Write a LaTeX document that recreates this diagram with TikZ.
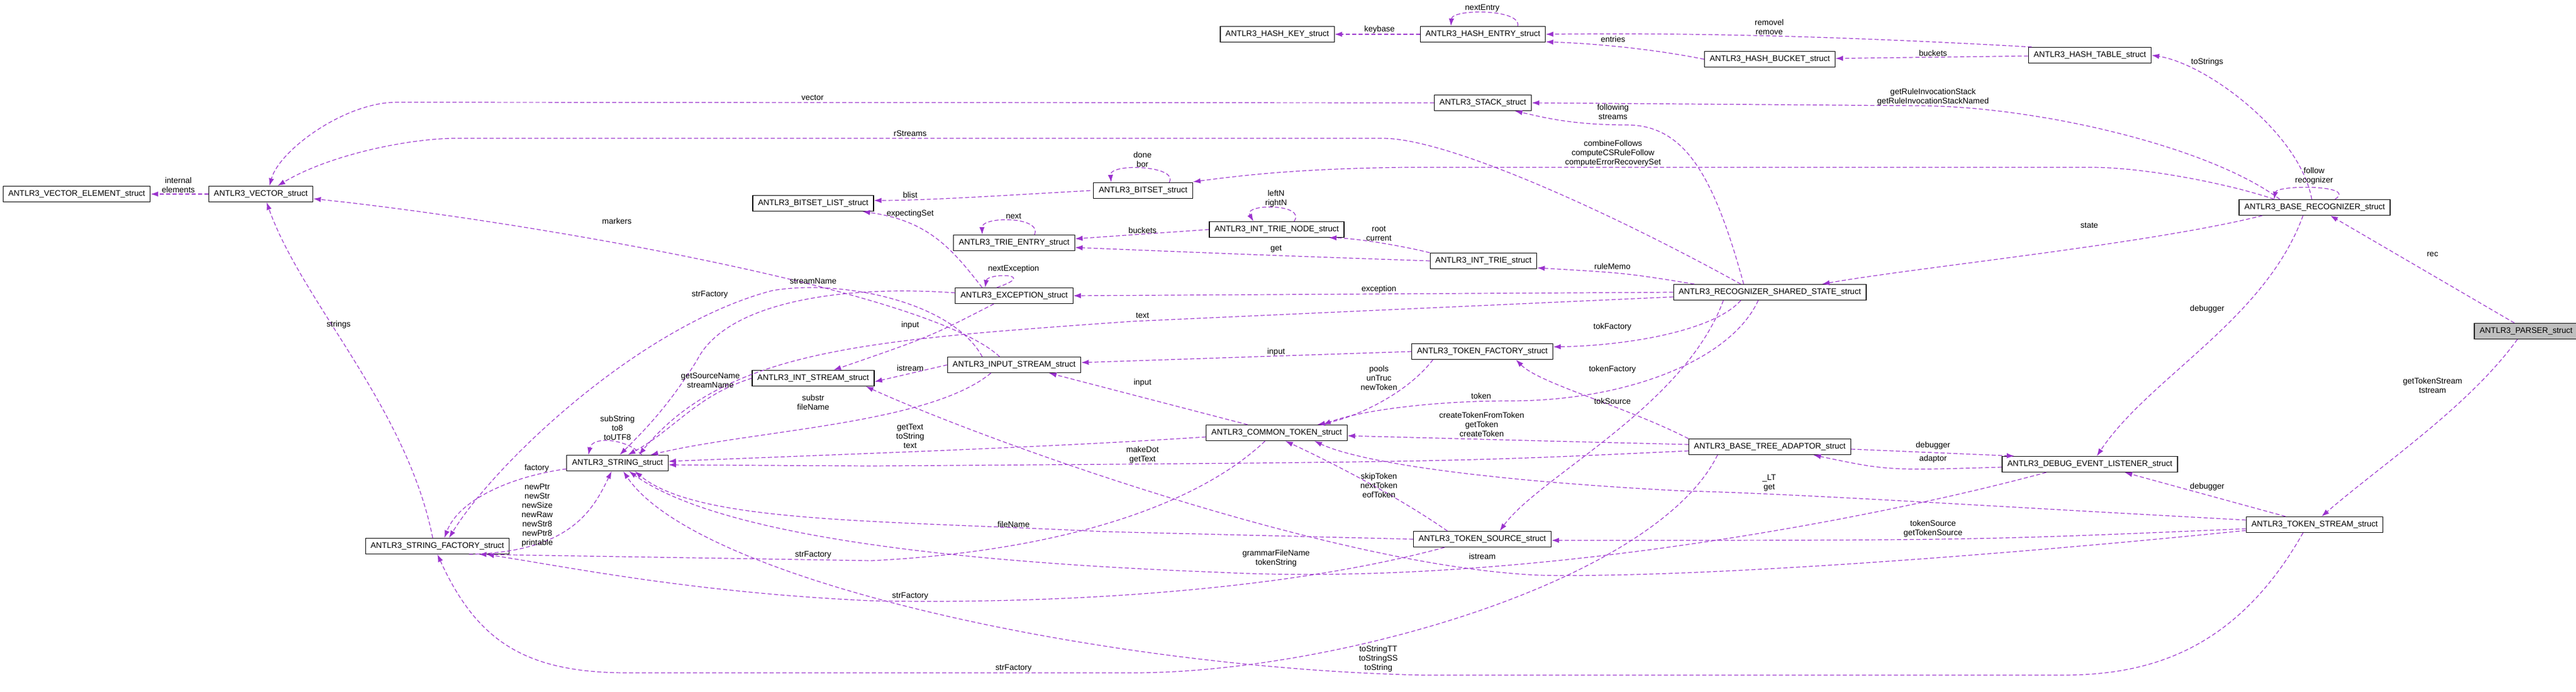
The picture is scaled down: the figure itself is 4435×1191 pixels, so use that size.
\documentclass[tikz,border=0pt]{standalone}
\usepackage{fontspec}
\setmainfont{Liberation Sans}
\usetikzlibrary{arrows.meta}
\definecolor{relcol}{HTML}{9A32CD}
\tikzset{
  box/.style={draw=black,line width=1.2pt,fill=white,inner xsep=9pt,minimum height=27pt,font=\fontsize{14}{16}\selectfont},
  rel/.style={draw=relcol,line width=1.2pt,dash pattern=on 7pt off 4pt,-{Latex[length=13pt,width=9pt]}},
  lbl/.style={font=\fontsize{14}{16}\selectfont,align=center,inner sep=0pt}
}
\begin{document}
\begin{tikzpicture}[x=1pt,y=-1pt]
\useasboundingbox (0,0) rectangle (4435,1191);

% structs
\node[box] (vecel) at (132,334) {ANTLR3\_VECTOR\_ELEMENT\_struct};
\node[box] (vec) at (449,334) {ANTLR3\_VECTOR\_struct};
\node[box] (bslist) at (1400,350) {ANTLR3\_BITSET\_LIST\_struct};
\node[box] (intstream) at (1400,651) {ANTLR3\_INT\_STREAM\_struct};
\node[box] (string) at (1063,797) {ANTLR3\_STRING\_struct};
\node[box] (strfac) at (753,940) {ANTLR3\_STRING\_FACTORY\_struct};
\node[box] (hashkey) at (2199,59) {ANTLR3\_HASH\_KEY\_struct};
\node[box] (hashentry) at (2553,59) {ANTLR3\_HASH\_ENTRY\_struct};
\node[box] (hashbucket) at (3047,102) {ANTLR3\_HASH\_BUCKET\_struct};
\node[box] (hashtable) at (3598,95) {ANTLR3\_HASH\_TABLE\_struct};
\node[box] (stack) at (2553,177) {ANTLR3\_STACK\_struct};
\node[box] (bitset) at (1968,328) {ANTLR3\_BITSET\_struct};
\node[box] (trienode) at (2198,395) {ANTLR3\_INT\_TRIE\_NODE\_struct};
\node[box] (trieentry) at (1746,418) {ANTLR3\_TRIE\_ENTRY\_struct};
\node[box] (inttrie) at (2554,449) {ANTLR3\_INT\_TRIE\_struct};
\node[box] (exception) at (1746,509) {ANTLR3\_EXCEPTION\_struct};
\node[box] (rss) at (3047,503) {ANTLR3\_RECOGNIZER\_SHARED\_STATE\_struct};
\node[box] (tokfac) at (2552,605) {ANTLR3\_TOKEN\_FACTORY\_struct};
\node[box] (inputstream) at (1746,628) {ANTLR3\_INPUT\_STREAM\_struct};
\node[box] (commontoken) at (2198,745) {ANTLR3\_COMMON\_TOKEN\_struct};
\node[box] (bta) at (3047,769) {ANTLR3\_BASE\_TREE\_ADAPTOR\_struct};
\node[box] (toksource) at (2552,928) {ANTLR3\_TOKEN\_SOURCE\_struct};
\node[box] (baserec) at (3985,357) {ANTLR3\_BASE\_RECOGNIZER\_struct};
\node[box,fill=black!25] (parser) at (4349,570) {ANTLR3\_PARSER\_struct};
\node[box] (debug) at (3598,799) {ANTLR3\_DEBUG\_EVENT\_LISTENER\_struct};
\node[box] (tokstream) at (3985,903) {ANTLR3\_TOKEN\_STREAM\_struct};

% vector, hash, stack
\draw[rel] (vec) -- (vecel);
\draw[rel] (stack.west) -- (680,176) .. controls (590,178) and (480,260) .. ([xshift=15]vec.north);
\draw[rel] ([xshift=-50]rss.north) .. controls (2800,380) and (2500,238) .. (2380,238) -- (780,238) .. controls (690,240) and (560,270) .. ([xshift=29]vec.north);
\draw[rel] ([xshift=-25]inputstream.north) .. controls (1600,500) and (900,380) .. ([yshift=-8]vec.east);
\draw[rel] ([xshift=-8]strfac.north) .. controls (700,700) and (520,520) .. ([xshift=10]vec.south);
\draw[rel] (hashentry) -- (hashkey);
\draw[rel] ([xshift=60]hashentry.north) .. controls (2620,15) and (2500,15) .. ([xshift=-55]hashentry.north);
\draw[rel] (hashbucket.west) .. controls (2850,85) and (2750,75) .. ([yshift=-13]hashentry.east);
\draw[rel] ([xshift=-100]hashtable.north) .. controls (3300,70) and (3000,55) .. (hashentry.east);
\draw[rel] (hashtable) -- (hashbucket);
\draw[rel] ([xshift=-5]baserec.north) .. controls (3960,230) and (3800,110) .. (hashtable.east);
\draw[rel] ([xshift=-60]baserec.north) .. controls (3800,250) and (3500,182) .. (3300,182) -- (stack.east);
\draw[rel] ([xshift=-45]rss.north) .. controls (2950,300) and (2900,215) .. (2800,215) .. controls (2700,215) and (2650,200) .. ([xshift=55]stack.south);

% bitsets, tries
\draw[rel] ([xshift=-70]baserec.north) .. controls (3850,320) and (3700,288) .. (3600,288) -- (2420,288) .. controls (2250,290) and (2150,300) .. ([yshift=15]bitset.east);
\draw[rel] ([xshift=-5]bitset.west) .. controls (1750,335) and (1600,345) .. ([yshift=5]bslist.east);
\draw[rel] ([xshift=45]bitset.north) .. controls (2030,285) and (1910,280) .. ([xshift=-55]bitset.north);
\draw[rel] ([xshift=-55]exception.north) .. controls (1640,430) and (1600,380) .. ([xshift=85]bslist.south);
\draw[rel] ([xshift=35]trieentry.north) .. controls (1795,372) and (1690,372) .. ([xshift=-55]trieentry.north);
\draw[rel] (trienode.west) -- ([yshift=7]trieentry.east);
\draw[rel] ([xshift=30]trienode.north) .. controls (2250,350) and (2140,350) .. ([xshift=-40]trienode.north);
\draw[rel] (inttrie.north west) .. controls (2400,420) and (2330,410) .. ([xshift=90]trienode.south);
\draw[rel] (inttrie.west) .. controls (2200,440) .. ([yshift=-8]trieentry.east);
\draw[rel] ([xshift=-130]rss.north) .. controls (2800,470) .. ([yshift=-12]inttrie.east);

% recognizer
\draw[rel] ([xshift=35]baserec.north) .. controls (4060,318) and (3920,318) .. ([xshift=-70]baserec.north);
\draw[rel] ([xshift=-90]baserec.south) .. controls (3700,420) and (3300,460) .. ([xshift=90]rss.north);
\draw[rel] ([xshift=-20]parser.north) -- ([xshift=27]baserec.south);
\draw[rel] ([xshift=-15]parser.south) .. controls (4250,700) and (4100,800) .. ([xshift=12]tokstream.north);
\draw[rel] ([xshift=-20]baserec.south) .. controls (3900,550) and (3700,650) .. ([xshift=12]debug.north);
\draw[rel] (rss.west) -- (exception.east);
\draw[rel] ([xshift=-30]exception.north) .. controls (1790,470) and (1700,470) .. ([xshift=-50]exception.north);
\draw[rel] ([yshift=-8]rss.west) -- (1950,553) .. controls (1500,585) and (1250,600) .. ([xshift=37]string.north);
\draw[rel] ([xshift=-35]exception.south) .. controls (1600,580) .. ([xshift=35]intstream.north);
\draw[rel] ([xshift=-50]rss.south) .. controls (2950,570) and (2800,595) .. ([yshift=8]tokfac.east);
\draw[rel] ([xshift=-20]rss.south) .. controls (2980,620) and (2800,690) .. (2600,690) .. controls (2450,690) and (2330,710) .. ([xshift=80]commontoken.north);
\draw[rel] ([xshift=-80]rss.south) .. controls (2900,700) and (2650,820) .. ([xshift=30]toksource.north);

% tokens and streams
\draw[rel] (tokfac.west) -- ([yshift=4]inputstream.east);
\draw[rel] (inputstream.west) -- ([yshift=-6]intstream.east);
\draw[rel] ([xshift=-50]commontoken.north) -- ([xshift=60]inputstream.south);
\draw[rel] ([xshift=-85]tokfac.south) .. controls (2420,680) and (2330,720) .. ([xshift=70]commontoken.north);
\draw[rel] (bta.north west) .. controls (2800,700) and (2650,660) .. ([xshift=58]tokfac.south);
\draw[rel] ([yshift=4]bta.west) .. controls (2700,760) .. ([yshift=-5]commontoken.east);
\draw[rel] ([yshift=-7]commontoken.west) .. controls (1800,770) and (1500,780) .. ([yshift=3]string.east);
\draw[rel] ([yshift=-7]bta.west) .. controls (2500,795) .. (1500,802) -- ([yshift=-3]string.east);
\draw[rel] ([xshift=-60]toksource.north) .. controls (2400,850) and (2280,790) .. ([xshift=15]commontoken.south);
\draw[rel] (toksource.west) -- (1900,915) .. controls (1500,895) and (1200,900) .. ([xshift=30]string.south);
\draw[rel] ([xshift=-20]commontoken.south) .. controls (2050,880) and (1800,950) .. (1500,965) -- ([xshift=-53]strfac.south east);
\draw[rel] ([xshift=-65]toksource.south) .. controls (2200,1020) and (1800,1040) .. (1500,1034) .. controls (1200,1020) and (1000,980) .. ([xshift=-40]strfac.south east);
\draw[rel] ([xshift=-40]inputstream.south) .. controls (1600,730) and (1300,740) .. ([xshift=57]string.north);
\draw[rel] (intstream.west) .. controls (1200,680) and (1160,740) .. ([xshift=18]string.north);
\draw[rel] ([xshift=-55]inputstream.north) .. controls (1640,520) and (1450,480) .. (1330,500) .. controls (1100,560) and (850,800) .. ([xshift=20]strfac.north);
\draw[rel] ([yshift=5]exception.west) .. controls (1450,490) and (1250,520) .. (1200,620) .. controls (1150,700) and (1110,740) .. ([xshift=4]string.north);

% strings
\draw[rel] ([xshift=42]string.north) .. controls (1080,755) and (1020,750) .. ([xshift=-50]string.north);
\draw[rel] ([yshift=-10]string.west) .. controls (880,820) and (790,860) .. ([xshift=12]strfac.north);
\draw[rel] ([xshift=-70]strfac.south east) .. controls (980,950) and (1020,880) .. ([xshift=-10]string.south);
\draw[rel] ([xshift=-75]debug.south) .. controls (3200,900) and (2600,1010) .. (2100,985) .. controls (1700,970) and (1250,930) .. ([xshift=20]string.south);
\draw[rel] ([xshift=-20]tokstream.south) .. controls (3850,1120) and (3700,1162) .. (3550,1162) -- (2450,1162) .. controls (1900,1150) and (1200,1000) .. ([xshift=10]string.south);
\draw[rel] ([xshift=-90]bta.south) .. controls (2850,1000) and (2300,1158) .. (1950,1158) -- (1080,1158) .. controls (900,1158) and (820,1100) .. (strfac.south);

% debugging
\draw[rel] ([yshift=-4]bta.east) -- ([xshift=-130]debug.north);
\draw[rel] ([yshift=-5]debug.west) .. controls (3250,810) .. ([xshift=75]bta.south);
\draw[rel] ([xshift=-50]tokstream.north) -- ([xshift=60]debug.south);
\draw[rel] ([yshift=8]tokstream.west) .. controls (3400,870) and (3100,850) .. (2900,845) .. controls (2600,830) and (2350,800) .. ([xshift=65]commontoken.south);
\draw[rel] ([yshift=-7]tokstream.west) .. controls (3400,930) .. ([yshift=-2]toksource.east);
\draw[rel] ([yshift=-10]tokstream.west) .. controls (3400,960) and (2900,995) .. (2650,990) .. controls (2300,975) and (1700,760) .. ([xshift=-15]intstream.south east);

% labels
\node[lbl] at (307,318) {internal\\elements};
\node[lbl] at (1399,168) {vector};
\node[lbl] at (1567,230) {rStreams};
\node[lbl] at (1062,380) {markers};
\node[lbl] at (583,559) {strings};
\node[lbl] at (1567,335) {blist};
\node[lbl] at (1967,274) {done\\bor};
\node[lbl] at (2375,51) {keybase};
\node[lbl] at (2552,14) {nextEntry};
\node[lbl] at (2777,67) {entries};
\node[lbl] at (3046,46) {removel\\remove};
\node[lbl] at (3328,91) {buckets};
\node[lbl] at (3800,107) {toStrings};
\node[lbl] at (3328,167) {getRuleInvocationStack\\getRuleInvocationStackNamed};
\node[lbl] at (2777,192) {following\\streams};
\node[lbl] at (2777,264) {combineFollows\\computeCSRuleFollow\\computeErrorRecoverySet};
\node[lbl] at (1567,368) {expectingSet};
\node[lbl] at (1745,372) {next};
\node[lbl] at (1967,396) {buckets};
\node[lbl] at (2197,342) {leftN\\rightN};
\node[lbl] at (2374,402) {root\\current};
\node[lbl] at (2197,428) {get};
\node[lbl] at (2776,458) {ruleMemo};
\node[lbl] at (3984,303) {follow\\recognizer};
\node[lbl] at (3597,388) {state};
\node[lbl] at (4188,438) {rec};
\node[lbl] at (4188,663) {getTokenStream\\tstream};
\node[lbl] at (3800,532) {debugger};
\node[lbl] at (2374,498) {exception};
\node[lbl] at (1745,463) {nextException};
\node[lbl] at (1967,543) {text};
\node[lbl] at (1567,560) {input};
\node[lbl] at (2776,563) {tokFactory};
\node[lbl] at (1222,507) {strFactory};
\node[lbl] at (1400,484) {streamName};
\node[lbl] at (2197,606) {input};
\node[lbl] at (1567,633) {istream};
\node[lbl] at (1967,659) {input};
\node[lbl] at (2374,650) {pools\\unTruc\\newToken};
\node[lbl] at (2776,636) {tokenFactory};
\node[lbl] at (2550,681) {token};
\node[lbl] at (2776,690) {tokSource};
\node[lbl] at (2551,730) {createTokenFromToken\\getToken\\createToken};
\node[lbl] at (1567,751) {getText\\toString\\text};
\node[lbl] at (1967,783) {makeDot\\getText};
\node[lbl] at (2374,835) {skipToken\\nextToken\\eofToken};
\node[lbl] at (1745,902) {fileName};
\node[lbl] at (2197,961) {grammarFileName\\tokenString};
\node[lbl] at (2552,957) {istream};
\node[lbl] at (1400,955) {strFactory};
\node[lbl] at (1567,1026) {strFactory};
\node[lbl] at (2373,1134) {toStringTT\\toStringSS\\toString};
\node[lbl] at (1745,1150) {strFactory};
\node[lbl] at (1223,655) {getSourceName\\streamName};
\node[lbl] at (1400,692) {substr\\fileName};
\node[lbl] at (1063,736) {subString\\to8\\toUTF8};
\node[lbl] at (924,806) {factory};
\node[lbl] at (925,887) {newPtr\\newStr\\newSize\\newRaw\\newStr8\\newPtr8\\printable};
\node[lbl] at (3328,767) {debugger};
\node[lbl] at (3328,790) {adaptor};
\node[lbl] at (3046,831) {\_LT\\get};
\node[lbl] at (3800,838) {debugger};
\node[lbl] at (3328,910) {tokenSource\\getTokenSource};
\end{tikzpicture}
\end{document}
